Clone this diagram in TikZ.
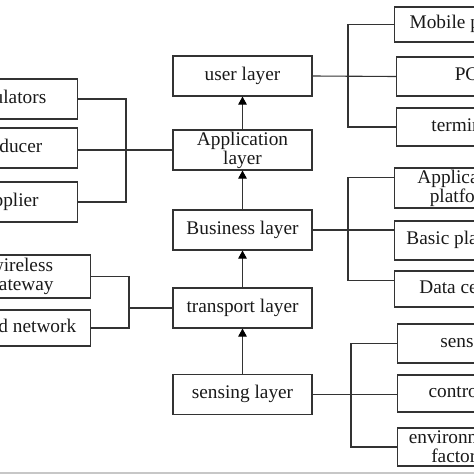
\documentclass[tikz,border=0pt]{standalone}
\usepackage{fontspec}
\setmainfont{Liberation Serif}
\usetikzlibrary{arrows.meta,calc}
\begin{document}
\begin{tikzpicture}[x=1pt,y=-1pt,
  every node/.style={font=\fontsize{19.3}{19}\selectfont,text=black!90},
  boxbase/.style={draw=black!80,line width=1.1pt,inner sep=0pt,align=center},
  one/.style={text height=13pt,text depth=4.5pt},
  layerbox/.style={boxbase,minimum width=139pt,minimum height=40pt},
  lbox/.style={boxbase,anchor=east},
  rbox/.style={boxbase,anchor=west},
  conn/.style={draw=black!80,line width=1.1pt},
  arr/.style={conn,-{Triangle[width=8.5pt,length=8pt,fill=black,color=black]}}
]
\useasboundingbox (0,0) rectangle (474,474);
\clip (0,0) rectangle (474,474);

% central layers
\node[layerbox,one] (user)  at (242.5,76)    {user layer};
\node[layerbox]     (app)   at (242.5,150)   {Application\\layer};
\node[layerbox,one] (bus)   at (242.5,230)   {Business layer};
\node[layerbox,one] (trans) at (242.5,308)   {transport layer};
\node[layerbox,one] (sens)  at (242.5,394.5) {sensing layer};

\draw[arr] (app.north)   -- (user.south);
\draw[arr] (bus.north)   -- (app.south);
\draw[arr] (trans.north) -- (bus.south);
\draw[arr] (sens.north)  -- (trans.south);

% left boxes
\node[lbox,one,minimum width=146pt,minimum height=40pt] (reg)  at (78,99)    {Regulators};
\node[lbox,one,minimum width=140pt,minimum height=40pt] (prod) at (78,148)   {Producer};
\node[lbox,one,minimum width=143pt,minimum height=40pt] (sup)  at (78,202)   {Supplier};
\node[lbox,minimum width=138pt,minimum height=43pt]     (wg)   at (91,276.5) {wireless\\gateway};
\node[lbox,one,minimum width=144pt,minimum height=36pt] (wn)   at (91,328)   {Wired network};

\draw[conn] (reg.east) -- ++(48,0) |- (sup.east);
\draw[conn] (app.west) -- (app.west -| prod.east);
\draw[conn] (wg.east) -- ++(38,0) coordinate (k) |- (wn.east);
\draw[conn] (trans.west) -- (trans.west -| k);

% right boxes
\node[rbox,one,minimum width=138pt,minimum height=35pt] (mob)   at (394,24.5)  {Mobile phone};
\node[rbox,one,minimum width=140pt,minimum height=39pt] (pc)    at (396,76.5)  {PC};
\node[rbox,one,minimum width=134pt,minimum height=38pt] (term)  at (396,127)   {terminal};
\node[rbox,minimum width=137pt,minimum height=40pt]     (apf)   at (394,188)   {Application\\platform};
\node[rbox,one,minimum width=138pt,minimum height=39pt] (basic) at (394,240.5) {Basic platform};
\node[rbox,one,minimum width=138pt,minimum height=36pt] (data)  at (394,289)   {Data center};
\node[rbox,one,minimum width=135pt,minimum height=39pt] (sensor) at (397,343.5) {sensor};
\node[rbox,one,minimum width=137pt,minimum height=37pt] (ctrl)  at (397,393.5) {controller};
\node[rbox,minimum width=120pt,minimum height=38pt]     (env)   at (397,447)   {environment\\factors};

\draw[conn] (user.east) -- (pc.west);
\draw[conn] (mob.west) -- ++(-46,0) |- (term.west);
\draw[conn] (bus.east) -- (bus.east -| basic.west);
\draw[conn] ($(apf.north west)+(0,10)$) -- ++(-46,0) |- ($(data.north west)+(0,10)$);
\draw[conn] (sens.east) -- (sens.east -| ctrl.west);
\draw[conn] (sensor.west) -- ++(-46,0) |- (env.west);

\fill[black!22] (0,472) rectangle (474,474);
\end{tikzpicture}
\end{document}
